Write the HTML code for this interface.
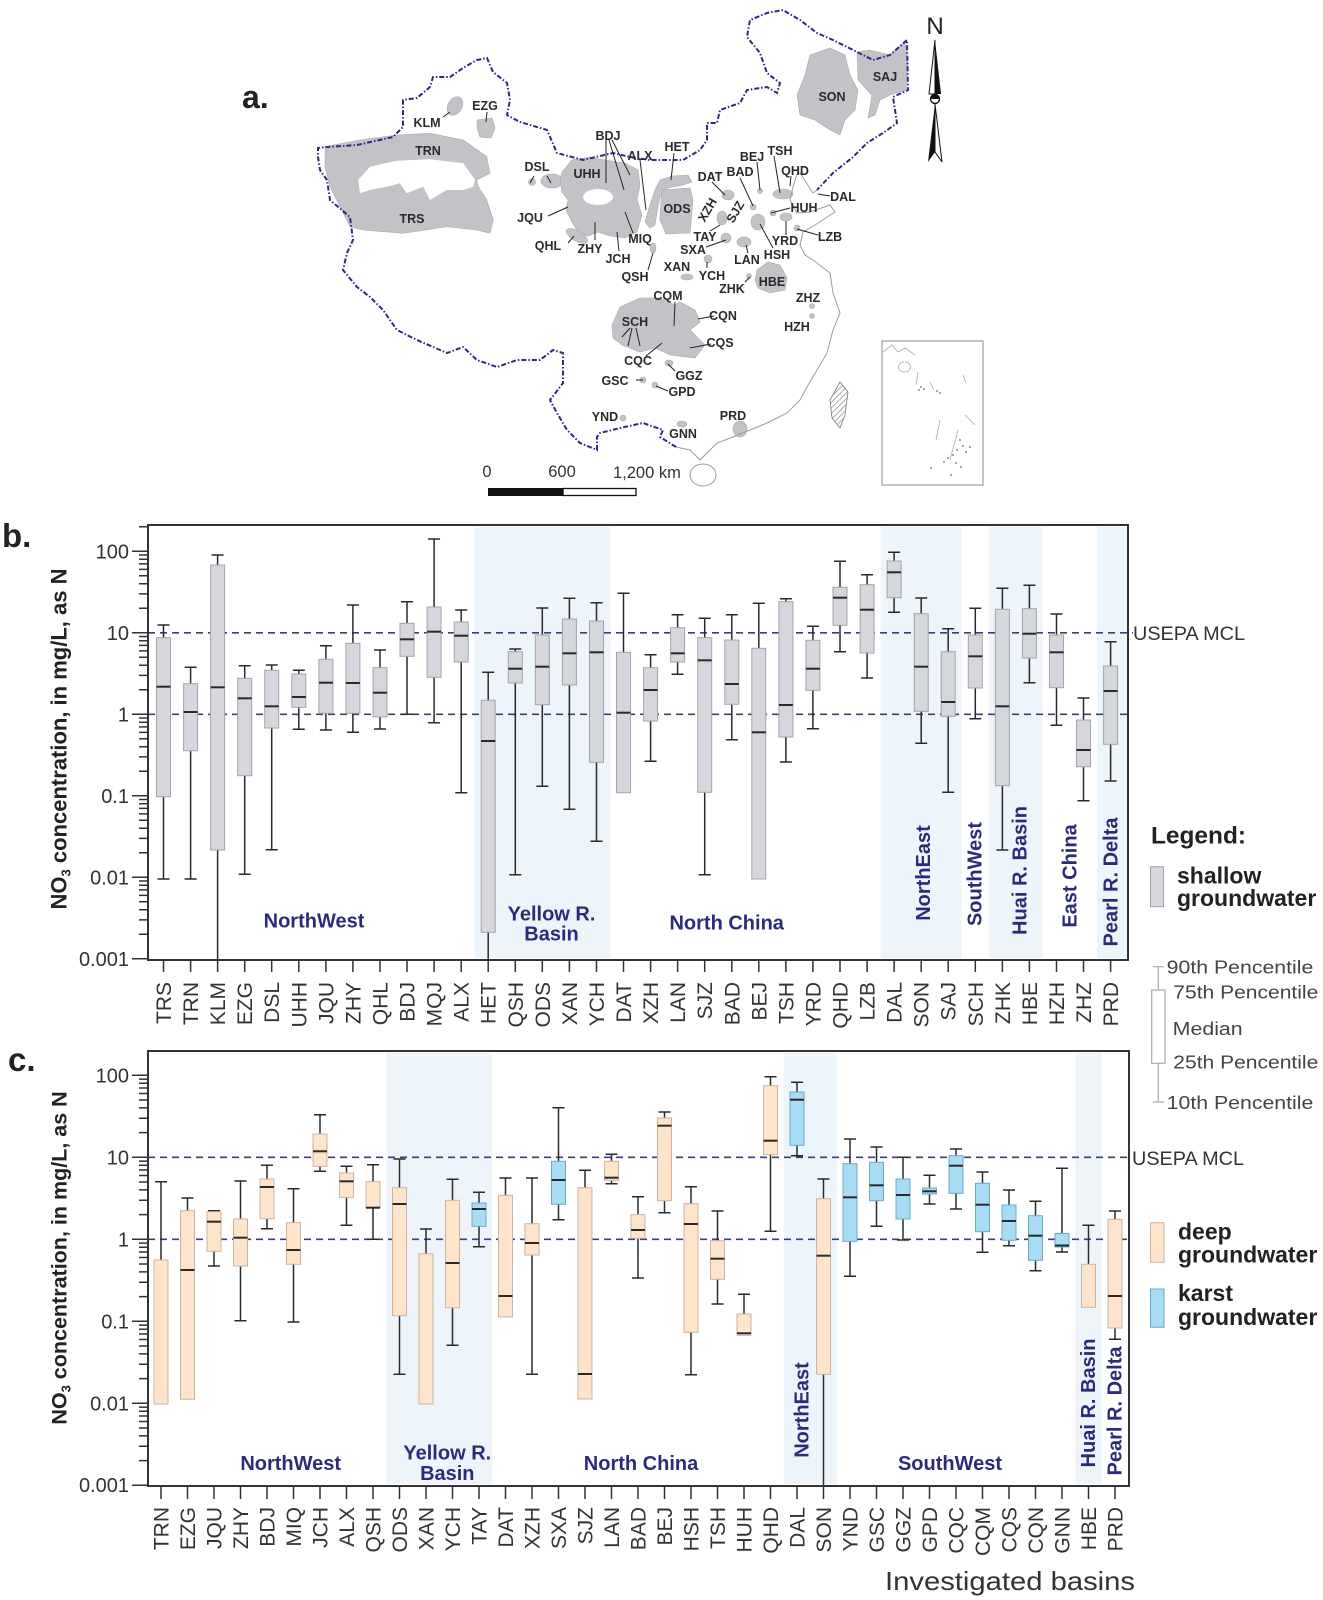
<!DOCTYPE html>
<html><head><meta charset="utf-8"><style>
html,body{margin:0;padding:0;background:#fff;}
svg{display:block}
svg text{font-family:"Liberation Sans",Arial,sans-serif;}
.w{stroke:#2a2a2a;stroke-width:1.5;fill:none}
.m{stroke:#2a2a2a;stroke-width:2}
.s{fill:#d6d6dd;stroke:#a3a3ad;stroke-width:1}
.d{fill:#fde4cb;stroke:#cdb4a2;stroke-width:1}
.k{fill:#a7dcf4;stroke:#6ba9c9;stroke-width:1}
.tl{font-size:21px;fill:#333}
.yl{font-size:20px;fill:#333}
.rg{font-size:20px;font-weight:bold;fill:#2c2a7a}
.ml{font-size:12.5px;font-weight:bold;fill:#2a2a2a}
.bs{fill:#c3c3c7;stroke:#aaa;stroke-width:0.6}
.ld{stroke:#222;stroke-width:1;fill:none}
.dash{stroke:#3d3d7d;stroke-width:1.6;stroke-dasharray:7 5;fill:none}
.lg{font-size:23px;font-weight:bold;fill:#222}
.pc{font-size:18px;fill:#444}
</style></head><body>
<svg width="1323" height="1600" viewBox="0 0 1323 1600" xmlns="http://www.w3.org/2000/svg">
<defs>
<pattern id="hatch" width="4" height="4" patternUnits="userSpaceOnUse" patternTransform="rotate(45)">
<rect width="4" height="4" fill="#fff"/><line x1="0" y1="0" x2="0" y2="4" stroke="#777" stroke-width="1.2"/>
</pattern>
</defs>

<!-- ================= MAP (a) ================= -->
<text x="242" y="108" font-size="32" font-weight="bold" fill="#222">a.</text>

<!-- basins -->
<path class="bs" d="M325,146.7 L360,140 L396.7,135 L430,133.3 L463.3,140 L486.7,156.7 L490,173.3 L476.7,180 L478.3,186.7 L486.7,200 L493.3,220 L490,233.3 L476.7,230 L446.7,226.7 L403.3,233.3 L363.3,230 L350,226.7 L340,206.7 L330,186.7 L325,166.7 Z"/>
<path fill="#fff" d="M358.3,180 L370,166.7 L396.7,160.7 L430,159.3 L463.3,163.3 L475,180 L473.3,186.7 L463.3,190 L446.7,190 L430,200 L423.3,186.7 L406.7,193.3 L400,183.3 L386.7,186.7 L370,190 L360,193.3 Z"/>
<ellipse class="bs" cx="455" cy="106" rx="7" ry="10" transform="rotate(30 455 106)"/>
<path class="bs" d="M477,120 L492,118 L495,128 L491,138 L480,137 L477,128 Z"/>
<circle class="bs" cx="532" cy="182" r="3.5"/>
<ellipse class="bs" cx="552" cy="181" rx="11" ry="7"/>
<path class="bs" d="M562,172 L572,160 L590,157 L605,160 L625,163 L638,170 L640,185 L637,200 L642,215 L637,232 L625,238 L610,236 L598,232 L588,236 L578,232 L572,222 L566,210 L568,200 L562,192 L560,180 Z"/>
<ellipse fill="#fff" cx="598" cy="197" rx="15" ry="8"/>
<ellipse class="bs" cx="577" cy="236" rx="12" ry="5" transform="rotate(30 577 236)"/>
<path class="bs" d="M650,228 L645,222 L650,205 L655,190 L660,180 L672,176 L688,175 L692,182 L683,185 L668,188 L660,197 L657,212 L655,225 Z"/>
<path class="bs" d="M662,190 L690,188 L693,200 L690,233 L666,234 L660,220 L661,200 Z"/>
<ellipse class="bs" cx="728" cy="195" rx="6" ry="5"/>
<ellipse class="bs" cx="722" cy="218" rx="5" ry="7"/>
<circle class="bs" cx="726" cy="238" r="5"/>
<ellipse class="bs" cx="744" cy="242" rx="7" ry="5"/>
<circle class="bs" cx="753" cy="207" r="3"/>
<circle class="bs" cx="760" cy="191" r="2.5"/>
<ellipse class="bs" cx="783" cy="194" rx="10" ry="5"/>
<circle class="bs" cx="773" cy="213" r="3"/>
<ellipse class="bs" cx="786" cy="217" rx="6" ry="4"/>
<circle class="bs" cx="797" cy="228" r="3"/>
<ellipse class="bs" cx="758" cy="222" rx="7" ry="8"/>
<circle class="bs" cx="708" cy="259" r="4"/>
<ellipse class="bs" cx="687" cy="277" rx="6" ry="3"/>
<ellipse class="bs" cx="653" cy="248" rx="3" ry="5"/>
<circle class="bs" cx="749" cy="276" r="2.5"/>
<path class="bs" d="M757,270 L768,262 L780,265 L787,278 L785,290 L770,293 L758,288 L755,280 Z"/>
<circle class="bs" cx="812" cy="306" r="2.5"/>
<circle class="bs" cx="812" cy="316" r="2.5"/>
<path class="bs" d="M612,325 L620,307 L640,298 L660,298 L675,305 L680,302 L695,310 L700,322 L690,330 L705,345 L695,358 L670,355 L655,348 L640,352 L622,345 L613,338 Z"/>
<ellipse class="bs" cx="669" cy="363" rx="4" ry="3"/>
<circle class="bs" cx="643" cy="380" r="3"/>
<circle class="bs" cx="655" cy="385" r="3"/>
<circle class="bs" cx="623" cy="418" r="3"/>
<ellipse class="bs" cx="682" cy="424" rx="5" ry="3"/>
<ellipse class="bs" cx="740" cy="429" rx="7" ry="8"/>
<path class="bs" d="M810,55 L830,48 L845,55 L850,75 L858,90 L855,110 L845,120 L840,135 L830,130 L815,120 L800,115 L797,95 L805,75 Z"/>
<path class="bs" d="M857,52 L870,50 L890,55 L905,42 L908,60 L906,90 L890,95 L880,100 L875,115 L868,118 L872,95 L858,80 Z"/>

<!-- coastline -->
<path fill="none" stroke="#9a9ab0" stroke-width="1" d="M817,190 L813,193 L800,173 L797,174 L793,187 L790,200 L797,213 L810,212 L830,205 L835,212 L815,225 L803,232 L800,245 L805,255 L813,260 L830,273 L833,293 L840,313 L833,330 L827,353 L817,370 L807,387 L800,400 L787,413 L767,423 L750,430 L733,437 L717,443 L707,453 L700,460 L690,450 L676,447"/>
<ellipse cx="703" cy="475" rx="13" ry="11" fill="none" stroke="#9a9ab0" stroke-width="1"/>
<path d="M840,382 L848,392 L845,415 L840,428 L832,418 L830,400 Z" fill="url(#hatch)" stroke="#777" stroke-width="0.8"/>
<!-- border -->
<path fill="none" stroke="#2b2b85" stroke-width="2" stroke-dasharray="5 2 1.5 2" d="M676,447 L660,437 L663,430 L643,423 L620,428 L600,433 L597,437 L597,450 L580,443 L567,430 L557,413 L550,400 L563,383 L563,353 L553,350 L540,360 L517,360 L497,367 L477,360 L463,347 L447,353 L417,340 L397,330 L383,310 L370,297 L357,287 L343,270 L347,253 L353,240 L350,217 L330,200 L327,180 L320,170 L318,157 L318,148 L327,147 L357,145 L393,137 L397,133 L403,127 L403,100 L417,98 L430,87 L433,77 L450,77 L463,68 L477,60 L487,58 L493,72 L507,83 L510,100 L507,115 L520,122 L547,130 L557,153 L583,160 L613,153 L630,157 L650,160 L683,160 L700,150 L707,140 L707,123 L717,123 L720,110 L740,103 L747,90 L767,87 L777,93 L780,83 L767,73 L760,53 L747,37 L750,20 L767,13 L783,10 L800,20 L817,33 L833,40 L853,50 L873,60 L890,55 L907,40 L908,90 L893,97 L897,123 L883,133 L867,143 L853,157 L833,173 L817,190"/>

<!-- leader lines -->
<path class="ld" d="M443,117L450,112 M487,112L486,122 M534,176L530,183 M547,176L551,183 M548,216L568,207 M568,243L574,236 M595,240L595,222 M619,251L617,232 M606,140L606,183 M609,140L624,190 M612,140L630,175 M633,233L625,212 M640,160L646,210 M674,153L671,180 M712,182L725,195 M740,178L753,206 M757,162L760,190 M774,156L780,193 M791,176L790,186 M818,194L830,196 M771,213L790,208 M786,235L786,221 M797,229L818,235 M773,248L760,224 M748,253L746,245 M706,247L726,240 M710,231L720,225 M707,268L707,262 M648,270L653,253 M745,282L750,277 M675,302L674,326 M714,316L698,319 M711,344L690,348 M630,328L622,337 M632,328L628,346 M636,328L640,346 M646,356L662,343 M675,371L668,364 M636,380L643,380 M668,391L656,386"/>

<!-- map labels -->
<g class="ml" text-anchor="middle">
<text x="428" y="155">TRN</text><text x="412" y="223">TRS</text><text x="427" y="127">KLM</text><text x="485" y="110">EZG</text>
<text x="537" y="171">DSL</text><text x="587" y="178">UHH</text><text x="530" y="222">JQU</text><text x="548" y="250">QHL</text>
<text x="590" y="253">ZHY</text><text x="608" y="140">BDJ</text><text x="640" y="160">ALX</text><text x="677" y="151">HET</text>
<text x="640" y="243">MIQ</text><text x="618" y="263">JCH</text><text x="635" y="281">QSH</text><text x="677" y="271">XAN</text>
<text x="712" y="280">YCH</text><text x="705" y="241">TAY</text><text x="693" y="254">SXA</text><text x="710" y="181">DAT</text>
<text x="740" y="176">BAD</text><text x="752" y="161">BEJ</text><text x="780" y="155">TSH</text><text x="795" y="175">QHD</text>
<text x="843" y="201">DAL</text><text x="804" y="212">HUH</text><text x="830" y="241">LZB</text><text x="785" y="245">YRD</text>
<text x="777" y="259">HSH</text><text x="747" y="264">LAN</text><text x="772" y="286">HBE</text><text x="732" y="293">ZHK</text>
<text x="808" y="302">ZHZ</text><text x="797" y="331">HZH</text><text x="668" y="300">CQM</text><text x="723" y="320">CQN</text>
<text x="635" y="326">SCH</text><text x="720" y="347">CQS</text><text x="638" y="365">CQC</text><text x="689" y="380">GGZ</text>
<text x="615" y="385">GSC</text><text x="682" y="396">GPD</text><text x="605" y="421">YND</text><text x="683" y="438">GNN</text>
<text x="733" y="420">PRD</text><text x="677" y="213">ODS</text><text x="832" y="101">SON</text><text x="885" y="81">SAJ</text>
<text transform="translate(711 212) rotate(-60)">XZH</text><text transform="translate(739 214) rotate(-60)">SJZ</text>
</g>

<!-- scale bar -->
<rect x="488" y="488" width="75" height="8" fill="#111"/>
<rect x="563" y="488.5" width="73" height="7" fill="#fff" stroke="#111" stroke-width="1.3"/>
<g font-size="16.5" fill="#333"><text x="487" y="477" text-anchor="middle">0</text><text x="562" y="477" text-anchor="middle">600</text><text x="613" y="478">1,200 km</text></g>

<!-- north arrow -->
<text x="935" y="34" font-size="24" fill="#222" text-anchor="middle">N</text>
<path d="M935,40 L929,94 L935,94 Z" fill="#fff" stroke="#111" stroke-width="1"/>
<path d="M935,40 L941,94 L935,94 Z" fill="#111"/>
<circle cx="935" cy="99" r="4.5" fill="#fff" stroke="#111" stroke-width="1.4"/>
<path d="M935,99 m-4.5,0 a4.5,4.5 0 0 1 9,0 Z" fill="#111"/>
<path d="M935,104 L928,162 L935,152 Z" fill="#111"/>
<path d="M935,104 L942,162 L935,152 Z" fill="#fff" stroke="#111" stroke-width="1"/>

<!-- inset -->
<rect x="882" y="341" width="101" height="144" fill="#fff" stroke="#888" stroke-width="1"/>
<path d="M883,352 L892,345 L898,352 L905,348 L915,355 M904,362 a6,5 0 1,0 1,0 M918,372 L916,385 M930,382 L934,390 M963,375 L966,383 M940,420 L936,440 M965,415 L975,425 M958,430 L950,460" fill="none" stroke="#aaa" stroke-width="0.8"/>
<g fill="#666"><circle cx="921" cy="387" r="0.9"/><circle cx="924" cy="389" r="0.9"/><circle cx="919" cy="390" r="0.9"/><circle cx="937" cy="391" r="0.9"/><circle cx="940" cy="393" r="0.9"/><circle cx="960" cy="440" r="0.9"/><circle cx="963" cy="446" r="0.9"/><circle cx="957" cy="450" r="0.9"/><circle cx="966" cy="452" r="0.9"/><circle cx="953" cy="455" r="0.9"/><circle cx="948" cy="458" r="0.9"/><circle cx="944" cy="462" r="0.9"/><circle cx="956" cy="463" r="0.9"/><circle cx="961" cy="467" r="0.9"/><circle cx="951" cy="475" r="0.9"/><circle cx="970" cy="447" r="0.9"/><circle cx="931" cy="468" r="0.9"/></g>

<!-- ================= PANEL b ================= -->
<text x="2" y="547" font-size="33" font-weight="bold" fill="#222">b.</text>
<g fill="#eef5fa">
<rect x="474.7" y="527" width="136" height="431"/>
<rect x="880.6" y="527" width="81" height="431"/>
<rect x="988.9" y="527" width="54" height="431"/>
<rect x="1097" y="527" width="30" height="431"/>
</g>
<path class="dash" d="M148,632.8H1133 M148,714.3H1128"/>
<text x="1133" y="640" font-size="19" fill="#333" textLength="112" lengthAdjust="spacingAndGlyphs">USEPA MCL</text>

<g><g transform="translate(163.5 0)"><path class="w" d="M0 625V637.7M-6 625H6M0 796.7V879M-6 879H6"/><rect class="s" x="-7" y="637.7" width="14" height="159"/><path class="m" d="M-7 686.7H7"/></g>
<g transform="translate(190.6 0)"><path class="w" d="M0 667.3V683.7M-6 667.3H6M0 750.7V879M-6 879H6"/><rect class="s" x="-7" y="683.7" width="14" height="67"/><path class="m" d="M-7 712H7"/></g>
<g transform="translate(217.6 0)"><path class="w" d="M0 555V565M-6 555H6M0 850V960"/><rect class="s" x="-7" y="565" width="14" height="285"/><path class="m" d="M-7 687.3H7"/></g>
<g transform="translate(244.7 0)"><path class="w" d="M0 665.7V678.3M-6 665.7H6M0 775.7V874.3M-6 874.3H6"/><rect class="s" x="-7" y="678.3" width="14" height="97.4"/><path class="m" d="M-7 698.3H7"/></g>
<g transform="translate(271.7 0)"><path class="w" d="M0 665V670.3M-6 665H6M0 728V849.7M-6 849.7H6"/><rect class="s" x="-7" y="670.3" width="14" height="57.7"/><path class="m" d="M-7 706.3H7"/></g>
<g transform="translate(298.8 0)"><path class="w" d="M0 670.3V674M-6 670.3H6M0 707.3V729.3M-6 729.3H6"/><rect class="s" x="-7" y="674" width="14" height="33.3"/><path class="m" d="M-7 697H7"/></g>
<g transform="translate(325.9 0)"><path class="w" d="M0 645.7V659.3M-6 645.7H6M0 713.3V730M-6 730H6"/><rect class="s" x="-7" y="659.3" width="14" height="54"/><path class="m" d="M-7 682.7H7"/></g>
<g transform="translate(352.9 0)"><path class="w" d="M0 605V643.3M-6 605H6M0 713.3V732.3M-6 732.3H6"/><rect class="s" x="-7" y="643.3" width="14" height="70"/><path class="m" d="M-7 683H7"/></g>
<g transform="translate(380 0)"><path class="w" d="M0 650V667.7M-6 650H6M0 717V729M-6 729H6"/><rect class="s" x="-7" y="667.7" width="14" height="49.3"/><path class="m" d="M-7 692.7H7"/></g>
<g transform="translate(407 0)"><path class="w" d="M0 601.7V623.3M-6 601.7H6M0 656.3V714.3M-6 714.3H6"/><rect class="s" x="-7" y="623.3" width="14" height="33"/><path class="m" d="M-7 639.3H7"/></g>
<g transform="translate(434.1 0)"><path class="w" d="M0 539V607M-6 539H6M0 677.3V722.7M-6 722.7H6"/><rect class="s" x="-7" y="607" width="14" height="70.3"/><path class="m" d="M-7 631.7H7"/></g>
<g transform="translate(461.2 0)"><path class="w" d="M0 610V622M-6 610H6M0 662V792.7M-6 792.7H6"/><rect class="s" x="-7" y="622" width="14" height="40"/><path class="m" d="M-7 635.7H7"/></g>
<g transform="translate(488.2 0)"><path class="w" d="M0 672.3V700.3M-6 672.3H6M0 932.3V960"/><rect class="s" x="-7" y="700.3" width="14" height="232"/><path class="m" d="M-7 741H7"/></g>
<g transform="translate(515.3 0)"><path class="w" d="M0 649V651.7M-6 649H6M0 683V874.7M-6 874.7H6"/><rect class="s" x="-7" y="651.7" width="14" height="31.3"/><path class="m" d="M-7 668.7H7"/></g>
<g transform="translate(542.3 0)"><path class="w" d="M0 608V635M-6 608H6M0 704.7V786.3M-6 786.3H6"/><rect class="s" x="-7" y="635" width="14" height="69.7"/><path class="m" d="M-7 666.7H7"/></g>
<g transform="translate(569.4 0)"><path class="w" d="M0 598.3V619M-6 598.3H6M0 685V809.3M-6 809.3H6"/><rect class="s" x="-7" y="619" width="14" height="66"/><path class="m" d="M-7 653.3H7"/></g>
<g transform="translate(596.5 0)"><path class="w" d="M0 602.7V621M-6 602.7H6M0 762.3V841.3M-6 841.3H6"/><rect class="s" x="-7" y="621" width="14" height="141.3"/><path class="m" d="M-7 652.3H7"/></g>
<g transform="translate(623.5 0)"><path class="w" d="M0 593.3V652.3M-6 593.3H6"/><rect class="s" x="-7" y="652.3" width="14" height="140.4"/><path class="m" d="M-7 712.7H7"/></g>
<g transform="translate(650.6 0)"><path class="w" d="M0 654.7V667.7M-6 654.7H6M0 721V761.3M-6 761.3H6"/><rect class="s" x="-7" y="667.7" width="14" height="53.3"/><path class="m" d="M-7 690H7"/></g>
<g transform="translate(677.6 0)"><path class="w" d="M0 614.7V627.7M-6 614.7H6M0 662V674.3M-6 674.3H6"/><rect class="s" x="-7" y="627.7" width="14" height="34.3"/><path class="m" d="M-7 653.3H7"/></g>
<g transform="translate(704.7 0)"><path class="w" d="M0 618.3V637.7M-6 618.3H6M0 792.3V874.7M-6 874.7H6"/><rect class="s" x="-7" y="637.7" width="14" height="154.6"/><path class="m" d="M-7 660.3H7"/></g>
<g transform="translate(731.8 0)"><path class="w" d="M0 614.7V640M-6 614.7H6M0 704.3V739.7M-6 739.7H6"/><rect class="s" x="-7" y="640" width="14" height="64.3"/><path class="m" d="M-7 684H7"/></g>
<g transform="translate(758.8 0)"><path class="w" d="M0 603.3V648.3M-6 603.3H6"/><rect class="s" x="-7" y="648.3" width="14" height="230.7"/><path class="m" d="M-7 732.3H7"/></g>
<g transform="translate(785.9 0)"><path class="w" d="M0 598.7V601.7M-6 598.7H6M0 737V762M-6 762H6"/><rect class="s" x="-7" y="601.7" width="14" height="135.3"/><path class="m" d="M-7 705H7"/></g>
<g transform="translate(812.9 0)"><path class="w" d="M0 626.3V640.3M-6 626.3H6M0 690.3V728.7M-6 728.7H6"/><rect class="s" x="-7" y="640.3" width="14" height="50"/><path class="m" d="M-7 668.7H7"/></g>
<g transform="translate(840 0)"><path class="w" d="M0 561.3V587.3M-6 561.3H6M0 625.3V651.7M-6 651.7H6"/><rect class="s" x="-7" y="587.3" width="14" height="38"/><path class="m" d="M-7 597.7H7"/></g>
<g transform="translate(867.1 0)"><path class="w" d="M0 574.7V584.7M-6 574.7H6M0 653V678M-6 678H6"/><rect class="s" x="-7" y="584.7" width="14" height="68.3"/><path class="m" d="M-7 609.7H7"/></g>
<g transform="translate(894.1 0)"><path class="w" d="M0 552.3V561M-6 552.3H6M0 597.7V612.3M-6 612.3H6"/><rect class="s" x="-7" y="561" width="14" height="36.7"/><path class="m" d="M-7 572.3H7"/></g>
<g transform="translate(921.2 0)"><path class="w" d="M0 598V613.7M-6 598H6M0 711.3V743.3M-6 743.3H6"/><rect class="s" x="-7" y="613.7" width="14" height="97.6"/><path class="m" d="M-7 666.7H7"/></g>
<g transform="translate(948.2 0)"><path class="w" d="M0 628.7V651.7M-6 628.7H6M0 716.3V792.3M-6 792.3H6"/><rect class="s" x="-7" y="651.7" width="14" height="64.6"/><path class="m" d="M-7 702H7"/></g>
<g transform="translate(975.3 0)"><path class="w" d="M0 608.3V635M-6 608.3H6M0 688V718.7M-6 718.7H6"/><rect class="s" x="-7" y="635" width="14" height="53"/><path class="m" d="M-7 656.3H7"/></g>
<g transform="translate(1002.4 0)"><path class="w" d="M0 588.3V609.3M-6 588.3H6M0 785.7V850M-6 850H6"/><rect class="s" x="-7" y="609.3" width="14" height="176.4"/><path class="m" d="M-7 706.3H7"/></g>
<g transform="translate(1029.4 0)"><path class="w" d="M0 585.3V608.7M-6 585.3H6M0 658V682.7M-6 682.7H6"/><rect class="s" x="-7" y="608.7" width="14" height="49.3"/><path class="m" d="M-7 633.7H7"/></g>
<g transform="translate(1056.5 0)"><path class="w" d="M0 614V635M-6 614H6M0 687.7V725.3M-6 725.3H6"/><rect class="s" x="-7" y="635" width="14" height="52.7"/><path class="m" d="M-7 652.3H7"/></g>
<g transform="translate(1083.5 0)"><path class="w" d="M0 698V720M-6 698H6M0 766.7V800.7M-6 800.7H6"/><rect class="s" x="-7" y="720" width="14" height="46.7"/><path class="m" d="M-7 750H7"/></g>
<g transform="translate(1110.6 0)"><path class="w" d="M0 641.7V666M-6 641.7H6M0 744.3V781M-6 781H6"/><rect class="s" x="-7" y="666" width="14" height="78.3"/><path class="m" d="M-7 691H7"/></g>
</g>

<rect x="148" y="525" width="980" height="435" fill="none" stroke="#333" stroke-width="2"/>
<path stroke="#333" stroke-width="1.5" fill="none" d="M132 551.3H148M132 632.8H148M132 714.3H148M132 795.8H148M132 877.3H148M132 958.8H148
M139 934.3H148M139 919.9H148M139 909.7H148M139 901.8H148M139 895.4H148M139 889.9H148M139 885.2H148M139 881H148
M139 852.8H148M139 838.4H148M139 828.2H148M139 820.3H148M139 813.9H148M139 808.4H148M139 803.7H148M139 799.5H148
M139 771.3H148M139 756.9H148M139 746.7H148M139 738.8H148M139 732.4H148M139 726.9H148M139 722.2H148M139 718H148
M139 689.8H148M139 675.4H148M139 665.2H148M139 657.3H148M139 650.9H148M139 645.4H148M139 640.7H148M139 636.5H148
M139 608.3H148M139 593.9H148M139 583.7H148M139 575.8H148M139 569.4H148M139 563.9H148M139 559.2H148M139 555H148M139 526.8H148"/>
<g class="yl" text-anchor="end">
<text x="129" y="558.3">100</text><text x="129" y="639.8">10</text><text x="129" y="721.3">1</text><text x="129" y="802.8">0.1</text><text x="129" y="884.3">0.01</text><text x="129" y="966">0.001</text>
</g>
<text transform="translate(66.5 739) rotate(-90)" text-anchor="middle" font-size="22" font-weight="bold" fill="#222">NO<tspan font-size="13" dy="4">3</tspan><tspan dy="-4"> concentration, in mg/L, as N</tspan></text>

<path stroke="#333" stroke-width="1.5" d="M163.5 960v12M190.6 960v12M217.6 960v12M244.7 960v12M271.7 960v12M298.8 960v12M325.9 960v12M352.9 960v12M380 960v12M407 960v12M434.1 960v12M461.2 960v12M488.2 960v12M515.3 960v12M542.3 960v12M569.4 960v12M596.5 960v12M623.5 960v12M650.6 960v12M677.6 960v12M704.7 960v12M731.8 960v12M758.8 960v12M785.9 960v12M812.9 960v12M840 960v12M867.1 960v12M894.1 960v12M921.2 960v12M948.2 960v12M975.3 960v12M1002.4 960v12M1029.4 960v12M1056.5 960v12M1083.5 960v12M1110.6 960v12"/>
<g class="tl" text-anchor="end">
<text transform="translate(171 982) rotate(-90)">TRS</text><text transform="translate(198.1 982) rotate(-90)">TRN</text><text transform="translate(225.1 982) rotate(-90)">KLM</text><text transform="translate(252.2 982) rotate(-90)">EZG</text>
<text transform="translate(279.2 982) rotate(-90)">DSL</text><text transform="translate(306.3 982) rotate(-90)">UHH</text><text transform="translate(333.4 982) rotate(-90)">JQU</text><text transform="translate(360.4 982) rotate(-90)">ZHY</text>
<text transform="translate(387.5 982) rotate(-90)">QHL</text><text transform="translate(414.5 982) rotate(-90)">BDJ</text><text transform="translate(441.6 982) rotate(-90)">MQJ</text><text transform="translate(468.7 982) rotate(-90)">ALX</text>
<text transform="translate(495.7 982) rotate(-90)">HET</text><text transform="translate(522.8 982) rotate(-90)">QSH</text><text transform="translate(549.8 982) rotate(-90)">ODS</text><text transform="translate(576.9 982) rotate(-90)">XAN</text>
<text transform="translate(604 982) rotate(-90)">YCH</text><text transform="translate(631 982) rotate(-90)">DAT</text><text transform="translate(658.1 982) rotate(-90)">XZH</text><text transform="translate(685.1 982) rotate(-90)">LAN</text>
<text transform="translate(712.2 982) rotate(-90)">SJZ</text><text transform="translate(739.3 982) rotate(-90)">BAD</text><text transform="translate(766.3 982) rotate(-90)">BEJ</text><text transform="translate(793.4 982) rotate(-90)">TSH</text>
<text transform="translate(820.4 982) rotate(-90)">YRD</text><text transform="translate(847.5 982) rotate(-90)">QHD</text><text transform="translate(874.6 982) rotate(-90)">LZB</text><text transform="translate(901.6 982) rotate(-90)">DAL</text>
<text transform="translate(928.7 982) rotate(-90)">SON</text><text transform="translate(955.7 982) rotate(-90)">SAJ</text><text transform="translate(982.8 982) rotate(-90)">SCH</text><text transform="translate(1009.9 982) rotate(-90)">ZHK</text>
<text transform="translate(1036.9 982) rotate(-90)">HBE</text><text transform="translate(1064 982) rotate(-90)">HZH</text><text transform="translate(1091 982) rotate(-90)">ZHZ</text><text transform="translate(1118.1 982) rotate(-90)">PRD</text>
</g>
<g class="rg" text-anchor="middle">
<text x="314" y="927.3">NorthWest</text>
<text x="551.5" y="920.7">Yellow R.</text><text x="551.5" y="940.7">Basin</text>
<text x="726.7" y="929.3">North China</text>
<text transform="translate(930 873) rotate(-90)">NorthEast</text>
<text transform="translate(981.7 874) rotate(-90)">SouthWest</text>
<text transform="translate(1026.7 870.5) rotate(-90)">Huai R. Basin</text>
<text transform="translate(1076.7 876) rotate(-90)">East China</text>
<text transform="translate(1117.5 882) rotate(-90)">Pearl R. Delta</text>
</g>

<!-- legend b -->
<text x="1151" y="843.3" font-size="24" font-weight="bold" fill="#222" textLength="95" lengthAdjust="spacingAndGlyphs">Legend:</text>
<rect class="s" x="1150.5" y="866.7" width="13" height="40"/>
<text class="lg" x="1177" y="883.3">shallow</text>
<text class="lg" x="1177" y="906">groundwater</text>
<path stroke="#aaa" stroke-width="1.2" fill="none" d="M1158.3 966.7V990M1153 966.7H1164M1158.3 1063.3V1102M1153 1102H1164M1151.7 1028.3H1165"/>
<rect x="1151.7" y="990" width="13.3" height="73.3" fill="#fff" stroke="#aaa" stroke-width="1.2"/>
<g class="pc">
<text x="1166.7" y="973.3" textLength="146.6" lengthAdjust="spacingAndGlyphs">90th Pencentile</text>
<text x="1173.3" y="998.3" textLength="145" lengthAdjust="spacingAndGlyphs">75th Pencentile</text>
<text x="1172.7" y="1035" textLength="70" lengthAdjust="spacingAndGlyphs">Median</text>
<text x="1173.3" y="1068.3" textLength="145" lengthAdjust="spacingAndGlyphs">25th Pencentile</text>
<text x="1166.7" y="1109" textLength="146.6" lengthAdjust="spacingAndGlyphs">10th Pencentile</text>
</g>

<!-- ================= PANEL c ================= -->
<text x="8" y="1071" font-size="33" font-weight="bold" fill="#222">c.</text>
<g fill="#eef5fa">
<rect x="386.3" y="1053" width="106" height="431"/>
<rect x="783.8" y="1053" width="53" height="431"/>
<rect x="1075.3" y="1053" width="26.5" height="431"/>
</g>
<path class="dash" d="M148,1157.3H1131 M148,1239.3H1129"/>
<text x="1132" y="1165" font-size="19" fill="#333" textLength="112" lengthAdjust="spacingAndGlyphs">USEPA MCL</text>

<g>
<g transform="translate(161 0)"><path class="w" d="M0 1181.7V1260M-6 1181.7H6"/><rect class="d" x="-7" y="1260" width="14" height="144"/></g>
<g transform="translate(187.5 0)"><path class="w" d="M0 1198V1210.7M-6 1198H6"/><rect class="d" x="-7" y="1210.7" width="14" height="188.6"/><path class="m" d="M-7 1270H7"/></g>
<g transform="translate(214 0)"><path class="w" d="M0 1210.7V1211.7M-6 1210.7H6M0 1251.3V1266M-6 1266H6"/><rect class="d" x="-7" y="1211.7" width="14" height="39.6"/><path class="m" d="M-7 1221.7H7"/></g>
<g transform="translate(240.5 0)"><path class="w" d="M0 1181V1219M-6 1181H6M0 1266V1320.7M-6 1320.7H6"/><rect class="d" x="-7" y="1219" width="14" height="47"/><path class="m" d="M-7 1237.7H7"/></g>
<g transform="translate(267 0)"><path class="w" d="M0 1165.3V1179M-6 1165.3H6M0 1218.7V1228.7M-6 1228.7H6"/><rect class="d" x="-7" y="1179" width="14" height="39.7"/><path class="m" d="M-7 1187H7"/></g>
<g transform="translate(293.5 0)"><path class="w" d="M0 1188.7V1222.7M-6 1188.7H6M0 1264.3V1322M-6 1322H6"/><rect class="d" x="-7" y="1222.7" width="14" height="41.6"/><path class="m" d="M-7 1250H7"/></g>
<g transform="translate(320 0)"><path class="w" d="M0 1114.7V1134M-6 1114.7H6M0 1166.3V1171.3M-6 1171.3H6"/><rect class="d" x="-7" y="1134" width="14" height="32.3"/><path class="m" d="M-7 1151.3H7"/></g>
<g transform="translate(346.5 0)"><path class="w" d="M0 1166.3V1173M-6 1166.3H6M0 1197.3V1225.3M-6 1225.3H6"/><rect class="d" x="-7" y="1173" width="14" height="24.3"/><path class="m" d="M-7 1181.3H7"/></g>
<g transform="translate(373 0)"><path class="w" d="M0 1164.7V1181.7M-6 1164.7H6M0 1207.7V1239.3M-6 1239.3H6"/><rect class="d" x="-7" y="1181.7" width="14" height="26"/><path class="m" d="M-7 1207.7H7"/></g>
<g transform="translate(399.5 0)"><path class="w" d="M0 1159V1187.7M-6 1159H6M0 1315.7V1374.3M-6 1374.3H6"/><rect class="d" x="-7" y="1187.7" width="14" height="128"/><path class="m" d="M-7 1204H7"/></g>
<g transform="translate(426 0)"><path class="w" d="M0 1229V1253.7M-6 1229H6"/><rect class="d" x="-7" y="1253.7" width="14" height="150.3"/></g>
<g transform="translate(452.5 0)"><path class="w" d="M0 1179.3V1200.3M-6 1179.3H6M0 1307.7V1345.3M-6 1345.3H6"/><rect class="d" x="-7" y="1200.3" width="14" height="107.4"/><path class="m" d="M-7 1263H7"/></g>
<g transform="translate(479 0)"><path class="w" d="M0 1192.3V1203M-6 1192.3H6M0 1226.3V1246.7M-6 1246.7H6"/><rect class="k" x="-7" y="1203" width="14" height="23.3"/><path class="m" d="M-7 1209H7"/></g>
<g transform="translate(505.5 0)"><path class="w" d="M0 1178V1195.3M-6 1178H6"/><rect class="d" x="-7" y="1195.3" width="14" height="121.7"/><path class="m" d="M-7 1296H7"/></g>
<g transform="translate(532 0)"><path class="w" d="M0 1178V1223.7M-6 1178H6M0 1255V1374.3M-6 1374.3H6"/><rect class="d" x="-7" y="1223.7" width="14" height="31.3"/><path class="m" d="M-7 1243H7"/></g>
<g transform="translate(558.5 0)"><path class="w" d="M0 1107.7V1161.3M-6 1107.7H6M0 1204.3V1219.7M-6 1219.7H6"/><rect class="k" x="-7" y="1161.3" width="14" height="43"/><path class="m" d="M-7 1180H7"/></g>
<g transform="translate(585 0)"><path class="w" d="M0 1170.3V1187.7M-6 1170.3H6"/><rect class="d" x="-7" y="1187.7" width="14" height="211.3"/><path class="m" d="M-7 1374H7"/></g>
<g transform="translate(611.5 0)"><path class="w" d="M0 1154.3V1161.3M-6 1154.3H6M0 1180.3V1183.7M-6 1183.7H6"/><rect class="d" x="-7" y="1161.3" width="14" height="19"/><path class="m" d="M-7 1177.7H7"/></g>
<g transform="translate(638 0)"><path class="w" d="M0 1196.7V1214.7M-6 1196.7H6M0 1238.3V1278M-6 1278H6"/><rect class="d" x="-7" y="1214.7" width="14" height="23.6"/><path class="m" d="M-7 1230H7"/></g>
<g transform="translate(664.5 0)"><path class="w" d="M0 1112V1118M-6 1112H6M0 1200.7V1212.7M-6 1212.7H6"/><rect class="d" x="-7" y="1118" width="14" height="82.7"/><path class="m" d="M-7 1125.7H7"/></g>
<g transform="translate(691 0)"><path class="w" d="M0 1186.7V1203.7M-6 1186.7H6M0 1332.3V1374.7M-6 1374.7H6"/><rect class="d" x="-7" y="1203.7" width="14" height="128.6"/><path class="m" d="M-7 1224H7"/></g>
<g transform="translate(717.5 0)"><path class="w" d="M0 1211V1240.7M-6 1211H6M0 1279.3V1304M-6 1304H6"/><rect class="d" x="-7" y="1240.7" width="14" height="38.6"/><path class="m" d="M-7 1258.7H7"/></g>
<g transform="translate(744 0)"><path class="w" d="M0 1294.3V1314M-6 1294.3H6"/><rect class="d" x="-7" y="1314" width="14" height="21.3"/><path class="m" d="M-7 1333.3H7"/></g>
<g transform="translate(770.5 0)"><path class="w" d="M0 1076.7V1085.7M-6 1076.7H6M0 1154.7V1231.3M-6 1231.3H6"/><rect class="d" x="-7" y="1085.7" width="14" height="69"/><path class="m" d="M-7 1140.7H7"/></g>
<g transform="translate(797 0)"><path class="w" d="M0 1082.3V1092M-6 1082.3H6M0 1145.3V1155.7M-6 1155.7H6"/><rect class="k" x="-7" y="1092" width="14" height="53.3"/><path class="m" d="M-7 1099.7H7"/></g>
<g transform="translate(823.5 0)"><path class="w" d="M0 1179V1198.7M-6 1179H6M0 1374.3V1486"/><rect class="d" x="-7" y="1198.7" width="14" height="175.6"/><path class="m" d="M-7 1255.7H7"/></g>
<g transform="translate(850 0)"><path class="w" d="M0 1139V1163.7M-6 1139H6M0 1241.3V1276.3M-6 1276.3H6"/><rect class="k" x="-7" y="1163.7" width="14" height="77.6"/><path class="m" d="M-7 1197.3H7"/></g>
<g transform="translate(876.5 0)"><path class="w" d="M0 1147V1162.3M-6 1147H6M0 1200.7V1226.3M-6 1226.3H6"/><rect class="k" x="-7" y="1162.3" width="14" height="38.4"/><path class="m" d="M-7 1185.3H7"/></g>
<g transform="translate(903 0)"><path class="w" d="M0 1157.3V1179M-6 1157.3H6M0 1219V1240M-6 1240H6"/><rect class="k" x="-7" y="1179" width="14" height="40"/><path class="m" d="M-7 1195H7"/></g>
<g transform="translate(929.5 0)"><path class="w" d="M0 1175.3V1188M-6 1175.3H6M0 1194V1204M-6 1204H6"/><rect class="k" x="-7" y="1188" width="14" height="6"/><path class="m" d="M-7 1191.3H7"/></g>
<g transform="translate(956 0)"><path class="w" d="M0 1149V1155.7M-6 1149H6M0 1193.3V1209M-6 1209H6"/><rect class="k" x="-7" y="1155.7" width="14" height="37.6"/><path class="m" d="M-7 1165.7H7"/></g>
<g transform="translate(982.5 0)"><path class="w" d="M0 1172V1183.3M-6 1172H6M0 1231.7V1252.3M-6 1252.3H6"/><rect class="k" x="-7" y="1183.3" width="14" height="48.4"/><path class="m" d="M-7 1204.7H7"/></g>
<g transform="translate(1009 0)"><path class="w" d="M0 1190V1205M-6 1190H6M0 1240.3V1245.7M-6 1245.7H6"/><rect class="k" x="-7" y="1205" width="14" height="35.3"/><path class="m" d="M-7 1221H7"/></g>
<g transform="translate(1035.5 0)"><path class="w" d="M0 1201.3V1215.7M-6 1201.3H6M0 1260.3V1270.7M-6 1270.7H6"/><rect class="k" x="-7" y="1215.7" width="14" height="44.6"/><path class="m" d="M-7 1235.7H7"/></g>
<g transform="translate(1062 0)"><path class="w" d="M0 1168.3V1233.5M-6 1168.3H6M0 1247V1252M-6 1252H6"/><rect class="k" x="-7" y="1233.5" width="14" height="13.5"/><path class="m" d="M-7 1245.5H7"/></g>
<g transform="translate(1088.5 0)"><path class="w" d="M0 1225.3V1264.3M-6 1225.3H6"/><rect class="d" x="-7" y="1264.3" width="14" height="43"/></g>
<g transform="translate(1115 0)"><path class="w" d="M0 1211V1219.3M-6 1211H6M0 1328V1339.3M-6 1339.3H6"/><rect class="d" x="-7" y="1219.3" width="14" height="108.7"/><path class="m" d="M-7 1296H7"/></g>
</g>

<rect x="148" y="1051" width="981" height="435" fill="none" stroke="#333" stroke-width="2"/>
<path stroke="#333" stroke-width="1.5" fill="none" d="M132 1075.3H148M132 1157.3H148M132 1239.3H148M132 1321.3H148M132 1403.3H148M132 1485.3H148
M139 1460.6H148M139 1446.2H148M139 1435.9H148M139 1428H148M139 1421.5H148M139 1416H148M139 1411.3H148M139 1407.1H148
M139 1378.6H148M139 1364.2H148M139 1353.9H148M139 1346H148M139 1339.5H148M139 1334H148M139 1329.3H148M139 1325.1H148
M139 1296.6H148M139 1282.2H148M139 1271.9H148M139 1264H148M139 1257.5H148M139 1252H148M139 1247.3H148M139 1243.1H148
M139 1214.6H148M139 1200.2H148M139 1189.9H148M139 1182H148M139 1175.5H148M139 1170H148M139 1165.3H148M139 1161.1H148
M139 1132.6H148M139 1118.2H148M139 1107.9H148M139 1100H148M139 1093.5H148M139 1088H148M139 1083.3H148M139 1079.1H148"/>
<g class="yl" text-anchor="end">
<text x="129" y="1082.3">100</text><text x="129" y="1164.3">10</text><text x="129" y="1246.3">1</text><text x="129" y="1328.3">0.1</text><text x="129" y="1410.3">0.01</text><text x="129" y="1492">0.001</text>
</g>
<text transform="translate(66.5 1258) rotate(-90)" text-anchor="middle" font-size="21.5" font-weight="bold" fill="#222">NO<tspan font-size="13" dy="4">3</tspan><tspan dy="-4"> concentration, in mg/L, as N</tspan></text>

<path stroke="#333" stroke-width="1.5" d="M161 1486v13M187.5 1486v13M214 1486v13M240.5 1486v13M267 1486v13M293.5 1486v13M320 1486v13M346.5 1486v13M373 1486v13M399.5 1486v13M426 1486v13M452.5 1486v13M479 1486v13M505.5 1486v13M532 1486v13M558.5 1486v13M585 1486v13M611.5 1486v13M638 1486v13M664.5 1486v13M691 1486v13M717.5 1486v13M744 1486v13M770.5 1486v13M797 1486v13M823.5 1486v13M850 1486v13M876.5 1486v13M903 1486v13M929.5 1486v13M956 1486v13M982.5 1486v13M1009 1486v13M1035.5 1486v13M1062 1486v13M1088.5 1486v13M1115 1486v13"/>
<g class="tl" text-anchor="end">
<text transform="translate(168.5 1507) rotate(-90)">TRN</text><text transform="translate(195 1507) rotate(-90)">EZG</text><text transform="translate(221.5 1507) rotate(-90)">JQU</text><text transform="translate(248 1507) rotate(-90)">ZHY</text>
<text transform="translate(274.5 1507) rotate(-90)">BDJ</text><text transform="translate(301 1507) rotate(-90)">MIQ</text><text transform="translate(327.5 1507) rotate(-90)">JCH</text><text transform="translate(354 1507) rotate(-90)">ALX</text>
<text transform="translate(380.5 1507) rotate(-90)">QSH</text><text transform="translate(407 1507) rotate(-90)">ODS</text><text transform="translate(433.5 1507) rotate(-90)">XAN</text><text transform="translate(460 1507) rotate(-90)">YCH</text>
<text transform="translate(486.5 1507) rotate(-90)">TAY</text><text transform="translate(513 1507) rotate(-90)">DAT</text><text transform="translate(539.5 1507) rotate(-90)">XZH</text><text transform="translate(566 1507) rotate(-90)">SXA</text>
<text transform="translate(592.5 1507) rotate(-90)">SJZ</text><text transform="translate(619 1507) rotate(-90)">LAN</text><text transform="translate(645.5 1507) rotate(-90)">BAD</text><text transform="translate(672 1507) rotate(-90)">BEJ</text>
<text transform="translate(698.5 1507) rotate(-90)">HSH</text><text transform="translate(725 1507) rotate(-90)">TSH</text><text transform="translate(751.5 1507) rotate(-90)">HUH</text><text transform="translate(778 1507) rotate(-90)">QHD</text>
<text transform="translate(804.5 1507) rotate(-90)">DAL</text><text transform="translate(831 1507) rotate(-90)">SON</text><text transform="translate(857.5 1507) rotate(-90)">YND</text><text transform="translate(884 1507) rotate(-90)">GSC</text>
<text transform="translate(910.5 1507) rotate(-90)">GGZ</text><text transform="translate(937 1507) rotate(-90)">GPD</text><text transform="translate(963.5 1507) rotate(-90)">CQC</text><text transform="translate(990 1507) rotate(-90)">CQM</text>
<text transform="translate(1016.5 1507) rotate(-90)">CQS</text><text transform="translate(1043 1507) rotate(-90)">CQN</text><text transform="translate(1069.5 1507) rotate(-90)">GNN</text><text transform="translate(1096 1507) rotate(-90)">HBE</text>
<text transform="translate(1122.5 1507) rotate(-90)">PRD</text>
</g>
<g class="rg" text-anchor="middle">
<text x="290.7" y="1470">NorthWest</text>
<text x="447.3" y="1459.3">Yellow R.</text><text x="447.3" y="1480">Basin</text>
<text x="641" y="1470">North China</text>
<text x="950" y="1470">SouthWest</text>
<text transform="translate(808.3 1410) rotate(-90)">NorthEast</text>
<text transform="translate(1095 1403) rotate(-90)">Huai R. Basin</text>
<text transform="translate(1121.5 1411) rotate(-90)">Pearl R. Delta</text>
</g>

<!-- legend c -->
<rect class="d" x="1150.5" y="1222.7" width="13.5" height="39.6"/>
<text class="lg" x="1178" y="1239.3">deep</text>
<text class="lg" x="1178" y="1262.7">groundwater</text>
<rect class="k" x="1150.5" y="1289" width="13.5" height="38.3"/>
<text class="lg" x="1178" y="1301">karst</text>
<text class="lg" x="1178" y="1325">groundwater</text>

<text x="1135" y="1590" text-anchor="end" font-size="26" fill="#333" textLength="250" lengthAdjust="spacingAndGlyphs">Investigated basins</text>
</svg>
</body></html>
